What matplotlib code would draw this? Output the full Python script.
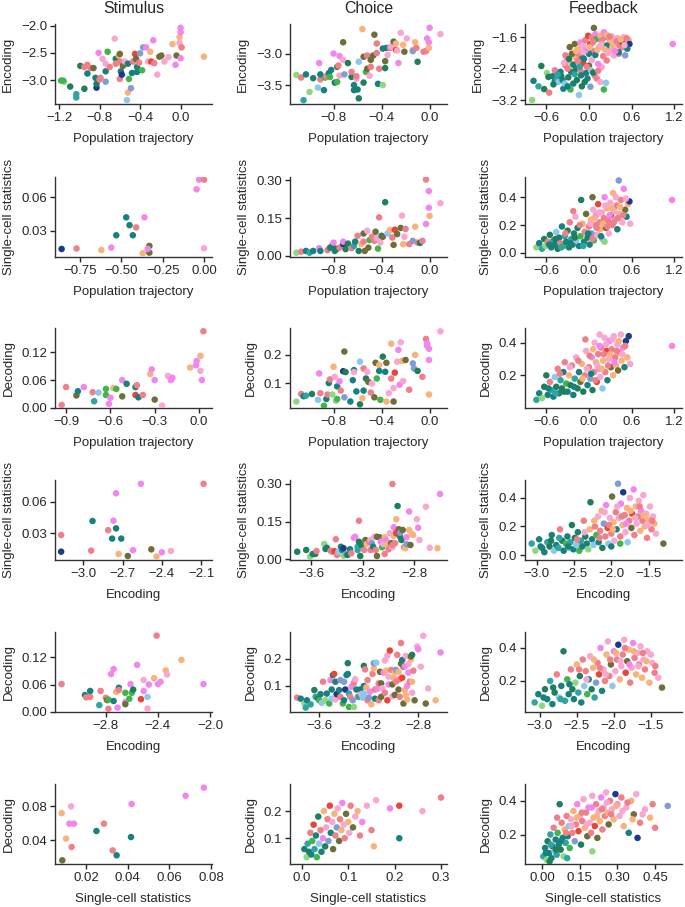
import matplotlib
matplotlib.use("Agg")
import matplotlib.pyplot as plt

plt.rcParams['font.family'] = ['Liberation Sans', 'DejaVu Sans']
plt.rcParams['font.size'] = 9.5
plt.rcParams['text.color'] = '#262626'
plt.rcParams['axes.labelcolor'] = '#262626'
plt.rcParams['xtick.color'] = '#262626'
plt.rcParams['ytick.color'] = '#262626'

# region group -> colour
colors = {
    'p': '#f9a6d0', 'm': '#f385ee', 's': '#ef7f89', 'o': '#f8b27c',
    't': '#17817f', 'g': '#1f7f5c', 'G': '#41b549', 'l': '#8fd77f',
    'v': '#6e6e38', 'b': '#8cc8ec', 'n': '#1a3a8c', 'r': '#e84437',
    'w': '#7f9dd2', 'c': '#2fa4a2',
}

titles = ['Stimulus', 'Choice', 'Feedback']

# ---------------- Stimulus ----------------
stim_traj_enc = [
    (-1.18, -3.01, 'G'), (-1.15, -3.03, 'l'), (-1.16, -3.01, 'G'), (-1.09, -3.12, 'g'),
    (-1.03, -3.26, 'c'), (-1.03, -3.32, 'c'), (-0.99, -2.74, 'g'), (-0.95, -3.16, 'g'),
    (-0.95, -2.76, 's'), (-0.92, -2.72, 's'), (-0.92, -2.88, 't'), (-0.89, -2.78, 's'),
    (-0.86, -2.78, 'v'), (-0.84, -2.96, 't'), (-0.83, -3.14, 'n'), (-0.83, -3.07, 'g'),
    (-0.81, -2.50, 'm'), (-0.79, -2.96, 's'), (-0.77, -2.61, 'p'), (-0.72, -2.48, 'G'),
    (-0.74, -2.70, 'p'), (-0.74, -3.03, 'w'), (-0.80, -2.99, 's'), (-0.74, -2.84, 't'),
    (-0.70, -2.76, 's'), (-0.65, -2.24, 'p'), (-0.64, -2.61, 'g'), (-0.64, -2.70, 's'),
    (-0.61, -2.55, 'o'), (-0.60, -2.66, 's'), (-0.60, -2.52, 'v'), (-0.60, -2.98, 's'),
    (-0.59, -2.84, 't'), (-0.58, -2.90, 'n'), (-0.57, -2.74, 'v'), (-0.55, -2.66, 'p'),
    (-0.52, -2.70, 't'), (-0.51, -2.98, 'G'), (-0.52, -3.23, 'o'), (-0.49, -3.15, 'w'),
    (-0.53, -3.37, 'b'), (-0.48, -2.87, 't'), (-0.47, -2.66, 's'), (-0.45, -2.52, 'r'),
    (-0.44, -2.61, 'v'), (-0.43, -2.76, 't'), (-0.43, -2.85, 't'), (-0.41, -2.68, 's'),
    (-0.40, -2.51, 'w'), (-0.38, -2.82, 'G'), (-0.37, -2.40, 'w'), (-0.34, -2.40, 'm'),
    (-0.32, -2.66, 'p'), (-0.30, -2.48, 'o'), (-0.29, -2.66, 'r'), (-0.26, -2.69, 's'),
    (-0.27, -2.27, 'm'), (-0.23, -2.90, 'p'), (-0.21, -2.57, 'v'), (-0.19, -2.55, 'v'),
    (-0.16, -2.66, 'p'), (-0.12, -2.58, 'p'), (-0.08, -2.34, 'o'), (-0.05, -2.72, 'm'),
    (-0.04, -2.55, 'v'), (-0.01, -2.21, 'o'), (0.0, -2.12, 'm'), (0.0, -2.04, 'm'),
    (-0.01, -2.32, 'p'), (0.01, -2.40, 's'), (0.0, -2.60, 'm'), (0.23, -2.57, 'o'),
]

stim_traj_sc = [
    (-0.86, 0.0138, 'n'), (-0.77, 0.0142, 's'), (-0.62, 0.0128, 'o'), (-0.56, 0.0150, 'm'),
    (-0.53, 0.0260, 't'), (-0.47, 0.0420, 't'), (-0.45, 0.0350, 't'), (-0.43, 0.0260, 't'),
    (-0.41, 0.0330, 's'), (-0.36, 0.0420, 'm'), (-0.37, 0.0100, 'o'), (-0.33, 0.0165, 'v'),
    (-0.33, 0.0105, 'v'), (-0.34, 0.0138, 'm'), (-0.045, 0.0670, 'm'), (-0.03, 0.0756, 'm'),
    (0.0, 0.0756, 's'), (0.0, 0.0144, 'p'),
]

stim_traj_dec = [
    (-0.93, 0.0065, 's'), (-0.90, 0.045, 's'), (-0.83, 0.027, 'v'), (-0.82, 0.036, 't'),
    (-0.78, 0.045, 'm'), (-0.72, 0.034, 's'), (-0.71, 0.0145, 'c'), (-0.68, 0.033, 'b'),
    (-0.63, 0.041, 'G'), (-0.63, 0.028, 'G'), (-0.61, 0.009, 'm'), (-0.60, 0.022, 'm'),
    (-0.58, 0.043, 'o'), (-0.56, 0.041, 'G'), (-0.52, 0.060, 'm'), (-0.52, 0.025, 'v'),
    (-0.49, 0.052, 't'), (-0.43, 0.045, 't'), (-0.43, 0.028, 'r'), (-0.42, 0.049, 's'),
    (-0.41, 0.023, 't'), (-0.38, 0.028, 's'), (-0.33, 0.073, 'o'), (-0.32, 0.083, 'm'),
    (-0.30, 0.060, 'm'), (-0.30, 0.018, 'v'), (-0.25, 0.005, 'p'), (-0.21, 0.069, 'p'),
    (-0.19, 0.060, 'm'), (-0.18, 0.065, 'm'), (-0.06, 0.087, 'o'), (-0.02, 0.092, 'm'),
    (-0.016, 0.101, 'm'), (0.01, 0.112, 'o'), (0.01, 0.080, 'p'), (0.02, 0.060, 'm'),
    (0.03, 0.165, 's'),
]

stim_enc_sc = [
    (-3.17, 0.0126, 'n'), (-3.17, 0.0284, 's'), (-2.94, 0.0136, 's'), (-2.93, 0.0417, 't'),
    (-2.81, 0.0330, 's'), (-2.78, 0.0250, 't'), (-2.77, 0.0420, 'm'), (-2.75, 0.0347, 't'),
    (-2.75, 0.0680, 'm'), (-2.73, 0.0104, 'o'), (-2.71, 0.0250, 't'), (-2.66, 0.0085, 'v'),
    (-2.62, 0.0140, 'm'), (-2.56, 0.0770, 'm'), (-2.48, 0.0148, 'v'), (-2.44, 0.0079, 'o'),
    (-2.40, 0.0120, 'm'), (-2.33, 0.0133, 'p'), (-2.08, 0.0770, 's'),
]

stim_enc_dec = [
    (-3.14, 0.061, 's'), (-2.96, 0.037, 't'), (-2.95, 0.032, 's'), (-2.92, 0.033, 's'),
    (-2.92, 0.046, 't'), (-2.85, 0.015, 'c'), (-2.84, 0.046, 's'), (-2.80, 0.031, 's'),
    (-2.79, 0.026, 'v'), (-2.78, 0.027, 'G'), (-2.78, 0.007, 's'), (-2.76, 0.083, 'm'),
    (-2.74, 0.094, 'm'), (-2.74, 0.024, 't'), (-2.72, 0.044, 'o'), (-2.71, 0.0096, 'm'),
    (-2.70, 0.053, 't'), (-2.70, 0.048, 's'), (-2.65, 0.022, 'm'), (-2.65, 0.017, 'v'),
    (-2.65, 0.042, 'G'), (-2.62, 0.029, 'G'), (-2.61, 0.061, 'm'), (-2.60, 0.042, 'G'),
    (-2.59, 0.049, 'g'), (-2.56, 0.103, 'm'), (-2.53, 0.028, 'r'), (-2.51, 0.070, 'p'),
    (-2.51, 0.046, 'm'), (-2.48, 0.033, 'b'), (-2.48, 0.0074, 'p'), (-2.47, 0.060, 'm'),
    (-2.43, 0.074, 'o'), (-2.41, 0.167, 's'), (-2.40, 0.061, 'm'), (-2.38, 0.066, 'm'),
    (-2.34, 0.091, 'o'), (-2.33, 0.082, 'p'), (-2.22, 0.114, 'o'), (-2.05, 0.061, 'm'),
]

stim_sc_dec = [
    (0.0083, 0.072, 'o'), (0.0086, 0.0165, 'v'), (0.0104, 0.042, 'o'), (0.0120, 0.0596, 'm'),
    (0.0128, 0.080, 'p'), (0.0131, 0.0322, 's'), (0.0142, 0.0596, 'm'), (0.0250, 0.051, 't'),
    (0.0286, 0.0596, 's'), (0.0328, 0.0282, 's'), (0.0347, 0.0224, 't'), (0.0416, 0.0439, 't'),
    (0.0419, 0.0827, 'm'), (0.0678, 0.0925, 'm'), (0.0766, 0.102, 'm'),
]

# ---------------- Choice ----------------
choice_traj_enc = [
    (-1.11, -3.34, 'l'), (-1.07, -3.38, 's'), (-1.03, -3.33, 't'), (-1.05, -3.74, 'c'),
    (-1.00, -3.61, 'l'), (-0.97, -3.39, 't'), (-0.93, -3.54, 'b'), (-0.92, -3.15, 'm'),
    (-0.91, -3.41, 's'), (-0.91, -3.33, 't'), (-0.88, -3.58, 't'), (-0.87, -3.38, 'G'),
    (-0.86, -3.36, 's'), (-0.84, -3.31, 't'), (-0.83, -3.37, 'G'), (-0.82, -3.26, 't'),
    (-0.80, -3.00, 'm'), (-0.79, -3.46, 'g'), (-0.77, -3.45, 'G'), (-0.77, -3.21, 'v'),
    (-0.76, -3.19, 's'), (-0.75, -3.35, 'p'), (-0.75, -3.04, 'm'), (-0.72, -3.10, 'p'),
    (-0.72, -2.82, 'v'), (-0.71, -3.33, 'w'), (-0.68, -3.15, 'g'), (-0.65, -3.37, 'g'),
    (-0.65, -3.29, 's'), (-0.61, -3.40, 'p'), (-0.61, -3.36, 's'), (-0.59, -3.13, 'b'),
    (-0.60, -3.57, 'g'), (-0.63, -3.58, 't'), (-0.63, -3.50, 't'), (-0.59, -3.71, 'g'),
    (-0.56, -2.61, 'o'), (-0.55, -3.05, 'v'), (-0.55, -3.46, 'g'), (-0.53, -3.29, 'G'),
    (-0.52, -3.24, 'v'), (-0.52, -3.03, 's'), (-0.50, -3.35, 'p'), (-0.49, -3.10, 'v'),
    (-0.49, -3.21, 's'), (-0.47, -3.03, 'v'), (-0.46, -2.70, 'v'), (-0.44, -2.84, 's'),
    (-0.44, -2.99, 's'), (-0.43, -3.48, 't'), (-0.42, -3.24, 's'), (-0.39, -3.50, 'l'),
    (-0.39, -2.92, 't'), (-0.37, -3.12, 'v'), (-0.37, -3.23, 'g'), (-0.36, -2.91, 't'),
    (-0.35, -3.02, 'p'), (-0.33, -2.91, 's'), (-0.32, -2.89, 'p'), (-0.30, -2.81, 'v'),
    (-0.28, -2.94, 'r'), (-0.28, -2.84, 'o'), (-0.27, -2.95, 'p'), (-0.26, -3.15, 'm'),
    (-0.24, -2.67, 'p'), (-0.22, -2.86, 'o'), (-0.21, -2.97, 'v'), (-0.19, -2.76, 'p'),
    (-0.14, -2.94, 'p'), (-0.14, -2.96, 'w'), (-0.12, -2.82, 'o'), (-0.11, -2.91, 's'),
    (-0.10, -3.13, 'g'), (-0.05, -2.97, 's'), (-0.03, -2.96, 's'), (-0.02, -2.76, 'm'),
    (-0.006, -2.82, 'm'), (-0.006, -2.91, 'o'), (0.0, -2.59, 'm'), (0.09, -2.69, 'p'),
]

choice_traj_sc = [
    (-1.11, 0.013, 'l'), (-1.07, 0.017, 's'), (-1.03, 0.020, 't'), (-1.00, 0.013, 'c'),
    (-0.97, 0.020, 't'), (-0.92, 0.031, 'm'), (-0.91, 0.020, 't'), (-0.85, 0.023, 's'),
    (-0.83, 0.033, 't'), (-0.81, 0.040, 'g'), (-0.80, 0.053, 'm'), (-0.79, 0.020, 't'),
    (-0.77, 0.029, 'g'), (-0.75, 0.033, 's'), (-0.72, 0.047, 'n'), (-0.72, 0.057, 'm'),
    (-0.70, 0.027, 'g'), (-0.68, 0.049, 'g'), (-0.65, 0.031, 's'), (-0.63, 0.040, 'c'),
    (-0.62, 0.057, 't'), (-0.60, 0.080, 's'), (-0.59, 0.020, 'g'), (-0.57, 0.047, 'o'),
    (-0.55, 0.057, 's'), (-0.55, 0.089, 'v'), (-0.54, 0.020, 'v'), (-0.52, 0.100, 'p'),
    (-0.51, 0.033, 'v'), (-0.50, 0.063, 'G'), (-0.48, 0.076, 's'), (-0.46, 0.060, 's'),
    (-0.45, 0.096, 'v'), (-0.44, 0.071, 'p'), (-0.43, 0.029, 'G'), (-0.42, 0.153, 's'),
    (-0.41, 0.053, 'p'), (-0.40, 0.080, 't'), (-0.39, 0.076, 'v'), (-0.37, 0.213, 'g'),
    (-0.35, 0.089, 'b'), (-0.33, 0.103, 'o'), (-0.31, 0.073, 's'), (-0.30, 0.044, 'v'),
    (-0.29, 0.104, 'r'), (-0.27, 0.087, 'v'), (-0.24, 0.111, 'v'), (-0.23, 0.160, 'p'),
    (-0.21, 0.076, 'p'), (-0.22, 0.047, 'o'), (-0.20, 0.107, 's'), (-0.17, 0.047, 's'),
    (-0.14, 0.060, 'w'), (-0.12, 0.116, 'o'), (-0.10, 0.053, 's'), (-0.08, 0.052, 'g'),
    (-0.06, 0.060, 's'), (-0.03, 0.303, 's'), (-0.006, 0.257, 'm'), (-0.006, 0.191, 'm'),
    (0.0, 0.159, 'o'), (-0.03, 0.127, 'm'), (0.09, 0.209, 'p'),
]

choice_traj_dec = [
    (-1.11, 0.034, 'l'), (-1.07, 0.061, 's'), (-1.05, 0.053, 't'), (-1.03, 0.055, 'c'),
    (-0.98, 0.061, 'g'), (-0.92, 0.134, 'm'), (-0.93, 0.040, 'b'), (-0.91, 0.064, 's'),
    (-0.88, 0.019, 'G'), (-0.86, 0.043, 't'), (-0.85, 0.059, 's'), (-0.84, 0.100, 't'),
    (-0.83, 0.113, 's'), (-0.81, 0.059, 'l'), (-0.80, 0.158, 'o'), (-0.79, 0.122, 'p'),
    (-0.78, 0.037, 'l'), (-0.77, 0.043, 'G'), (-0.77, 0.088, 't'), (-0.75, 0.106, 'm'),
    (-0.74, 0.073, 's'), (-0.72, 0.142, 'n'), (-0.71, 0.212, 'v'), (-0.71, 0.049, 'w'),
    (-0.70, 0.139, 'g'), (-0.66, 0.034, 't'), (-0.64, 0.110, 't'), (-0.63, 0.146, 't'),
    (-0.63, 0.139, 'p'), (-0.61, 0.070, 't'), (-0.58, 0.176, 'b'), (-0.58, 0.024, 'g'),
    (-0.56, 0.046, 'o'), (-0.55, 0.152, 's'), (-0.55, 0.073, 't'), (-0.53, 0.116, 'g'),
    (-0.52, 0.140, 'p'), (-0.51, 0.104, 'v'), (-0.49, 0.066, 's'), (-0.48, 0.098, 'p'),
    (-0.46, 0.049, 'v'), (-0.45, 0.172, 'v'), (-0.44, 0.116, 'G'), (-0.42, 0.164, 'o'),
    (-0.42, 0.143, 't'), (-0.41, 0.040, 'G'), (-0.39, 0.194, 'g'), (-0.37, 0.140, 't'),
    (-0.36, 0.172, 'v'), (-0.36, 0.034, 'o'), (-0.34, 0.064, 'p'), (-0.32, 0.240, 'o'),
    (-0.32, 0.116, 's'), (-0.30, 0.034, 'v'), (-0.30, 0.082, 'p'), (-0.29, 0.137, 'r'),
    (-0.27, 0.176, 'p'), (-0.26, 0.218, 'm'), (-0.25, 0.094, 'm'), (-0.23, 0.179, 'o'),
    (-0.22, 0.107, 'p'), (-0.20, 0.182, 'v'), (-0.24, 0.245, 'p'), (-0.17, 0.076, 's'),
    (-0.14, 0.170, 'w'), (-0.13, 0.152, 'w'), (-0.12, 0.200, 'o'), (-0.10, 0.143, 'g'),
    (-0.06, 0.122, 's'), (-0.03, 0.257, 's'), (-0.02, 0.241, 'm'), (-0.02, 0.232, 'm'),
    (-0.005, 0.222, 'm'), (-0.005, 0.182, 'm'), (-0.005, 0.059, 'o'), (0.09, 0.284, 'p'),
]

choice_enc_sc = [
    (-3.71, 0.029, 'g'), (-3.64, 0.036, 'g'), (-3.61, 0.009, 'l'), (-3.59, 0.020, 't'),
    (-3.57, 0.020, 'g'), (-3.56, 0.032, 's'), (-3.50, 0.060, 'l'), (-3.49, 0.040, 't'),
    (-3.48, 0.045, 'g'), (-3.45, 0.033, 's'), (-3.44, 0.029, 's'), (-3.42, 0.031, 'r'),
    (-3.41, 0.079, 's'), (-3.40, 0.016, 's'), (-3.39, 0.029, 'b'), (-3.37, 0.049, 't'),
    (-3.36, 0.036, 't'), (-3.35, 0.043, 'n'), (-3.35, 0.013, 'l'), (-3.33, 0.020, 'w'),
    (-3.32, 0.016, 'g'), (-3.30, 0.039, 't'), (-3.29, 0.023, 's'), (-3.27, 0.085, 'm'),
    (-3.26, 0.089, 'm'), (-3.24, 0.036, 'c'), (-3.24, 0.049, 'c'), (-3.23, 0.069, 'g'),
    (-3.23, 0.153, 's'), (-3.22, 0.012, 'g'), (-3.21, 0.056, 'g'), (-3.19, 0.036, 's'),
    (-3.18, 0.076, 'v'), (-3.17, 0.060, 'o'), (-3.15, 0.069, 's'), (-3.14, 0.036, 's'),
    (-3.14, 0.076, 'p'), (-3.13, 0.063, 'w'), (-3.12, 0.049, 't'), (-3.11, 0.089, 'p'),
    (-3.10, 0.036, 's'), (-3.09, 0.012, 'v'), (-3.09, 0.089, 'v'), (-3.07, 0.087, 'v'),
    (-3.06, 0.069, 'm'), (-3.05, 0.047, 'G'), (-3.04, 0.060, 'p'), (-3.03, 0.020, 's'),
    (-3.03, 0.087, 'o'), (-3.02, 0.076, 'm'), (-3.01, 0.059, 'o'), (-3.00, 0.039, 's'),
    (-2.99, 0.103, 'p'), (-2.98, 0.063, 'v'), (-2.97, 0.047, 'p'), (-2.97, 0.056, 's'),
    (-2.96, 0.127, 'm'), (-2.96, 0.092, 'o'), (-2.97, 0.300, 's'), (-2.95, 0.063, 's'),
    (-2.94, 0.109, 's'), (-2.94, 0.103, 'r'), (-2.94, 0.159, 'o'), (-2.93, 0.212, 'g'),
    (-2.92, 0.119, 'v'), (-2.91, 0.089, 't'), (-2.91, 0.105, 'w'), (-2.90, 0.076, 'g'),
    (-2.89, 0.116, 'v'), (-2.88, 0.047, 's'), (-2.87, 0.043, 'o'), (-2.86, 0.059, 'w'),
    (-2.86, 0.087, 'm'), (-2.84, 0.190, 'm'), (-2.84, 0.116, 'o'), (-2.83, 0.056, 'v'),
    (-2.82, 0.100, 'o'), (-2.81, 0.096, 'o'), (-2.78, 0.159, 'p'), (-2.77, 0.125, 'm'),
    (-2.76, 0.076, 'p'), (-2.71, 0.209, 'p'), (-2.68, 0.045, 'p'), (-2.62, 0.043, 'o'),
    (-2.60, 0.260, 'm'),
]

choice_enc_dec = [
    (-3.78, 0.056, 's'), (-3.75, 0.052, 't'), (-3.72, 0.034, 'l'), (-3.71, 0.019, 'c'),
    (-3.70, 0.046, 't'), (-3.67, 0.031, 'c'), (-3.64, 0.084, 'g'), (-3.63, 0.059, 'c'),
    (-3.61, 0.052, 'g'), (-3.60, 0.046, 'G'), (-3.59, 0.069, 't'), (-3.58, 0.036, 'b'),
    (-3.57, 0.115, 's'), (-3.55, 0.046, 'l'), (-3.54, 0.071, 't'), (-3.52, 0.034, 'G'),
    (-3.51, 0.121, 'm'), (-3.50, 0.086, 't'), (-3.50, 0.052, 'b'), (-3.49, 0.140, 'g'),
    (-3.48, 0.144, 'r'), (-3.47, 0.115, 't'), (-3.47, 0.049, 'p'), (-3.46, 0.069, 'n'),
    (-3.44, 0.084, 't'), (-3.43, 0.121, 'w'), (-3.43, 0.059, 's'), (-3.41, 0.034, 'G'),
    (-3.40, 0.046, 't'), (-3.40, 0.115, 'w'), (-3.39, 0.086, 'n'), (-3.38, 0.140, 't'),
    (-3.37, 0.144, 't'), (-3.37, 0.184, 'g'), (-3.36, 0.071, 'c'), (-3.36, 0.021, 'G'),
    (-3.35, 0.059, 's'), (-3.34, 0.096, 'm'), (-3.33, 0.046, 'w'), (-3.32, 0.021, 'l'),
    (-3.32, 0.111, 's'), (-3.31, 0.124, 'p'), (-3.30, 0.086, 't'), (-3.29, 0.059, 's'),
    (-3.28, 0.059, 'c'), (-3.27, 0.086, 't'), (-3.26, 0.069, 'p'), (-3.25, 0.056, 'b'),
    (-3.24, 0.099, 't'), (-3.24, 0.071, 'b'), (-3.24, 0.174, 'g'), (-3.23, 0.161, 's'),
    (-3.22, 0.094, 'o'), (-3.21, 0.121, 's'), (-3.21, 0.046, 's'), (-3.20, 0.056, 'w'),
    (-3.19, 0.078, 'm'), (-3.18, 0.031, 'o'), (-3.17, 0.144, 's'), (-3.16, 0.165, 'o'),
    (-3.16, 0.184, 'w'), (-3.15, 0.052, 't'), (-3.15, 0.086, 's'), (-3.14, 0.186, 'b'),
    (-3.13, 0.089, 'm'), (-3.12, 0.109, 's'), (-3.12, 0.046, 's'), (-3.11, 0.152, 'v'),
    (-3.10, 0.109, 'v'), (-3.10, 0.059, 'v'), (-3.09, 0.091, 'p'), (-3.08, 0.149, 'm'),
    (-3.07, 0.194, 'p'), (-3.07, 0.074, 's'), (-3.06, 0.156, 'o'), (-3.05, 0.046, 'r'),
    (-3.05, 0.212, 'p'), (-3.04, 0.105, 'm'), (-3.04, 0.134, 'p'), (-3.03, 0.231, 'r'),
    (-3.02, 0.159, 's'), (-3.01, 0.061, 'p'), (-3.01, 0.105, 'v'), (-3.00, 0.130, 'o'),
    (-2.99, 0.151, 'o'), (-2.99, 0.066, 'v'), (-2.98, 0.116, 's'), (-2.98, 0.159, 'w'),
    (-2.97, 0.215, 's'), (-2.96, 0.086, 'v'), (-2.96, 0.151, 'o'), (-2.95, 0.124, 's'),
    (-2.95, 0.059, 's'), (-2.94, 0.182, 'v'), (-2.94, 0.259, 's'), (-2.93, 0.196, 't'),
    (-2.93, 0.130, 'r'), (-2.92, 0.171, 'v'), (-2.92, 0.034, 'v'), (-2.91, 0.084, 'o'),
    (-2.91, 0.172, 'm'), (-2.90, 0.211, 'p'), (-2.90, 0.066, 'o'), (-2.89, 0.099, 'm'),
    (-2.89, 0.049, 'o'), (-2.88, 0.149, 'm'), (-2.88, 0.181, 'p'), (-2.87, 0.115, 's'),
    (-2.86, 0.199, 'o'), (-2.86, 0.209, 'v'), (-2.85, 0.215, 'g'), (-2.85, 0.115, 'o'),
    (-2.85, 0.074, 'p'), (-2.84, 0.156, 's'), (-2.83, 0.046, 'v'), (-2.81, 0.246, 'p'),
    (-2.80, 0.236, 'm'), (-2.78, 0.171, 'p'), (-2.76, 0.286, 'p'), (-2.74, 0.034, 'v'),
    (-2.72, 0.090, 'p'), (-2.66, 0.046, 'o'), (-2.62, 0.224, 'm'),
]

choice_sc_dec = [
    (0.005, 0.060, 't'), (0.010, 0.030, 'l'), (0.012, 0.080, 'c'), (0.015, 0.050, 'g'),
    (0.018, 0.120, 's'), (0.020, 0.040, 't'), (0.022, 0.090, 'G'), (0.025, 0.150, 'r'),
    (0.027, 0.060, 'c'), (0.030, 0.110, 't'), (0.032, 0.030, 'G'), (0.035, 0.180, 'g'),
    (0.037, 0.080, 'b'), (0.040, 0.130, 's'), (0.042, 0.050, 't'), (0.045, 0.100, 'm'),
    (0.047, 0.200, 'o'), (0.050, 0.070, 'g'), (0.052, 0.140, 'p'), (0.055, 0.170, 's'),
    (0.057, 0.090, 'w'), (0.060, 0.220, 'r'), (0.062, 0.120, 't'), (0.065, 0.160, 'p'),
    (0.067, 0.060, 'v'), (0.070, 0.190, 'o'), (0.072, 0.110, 's'), (0.075, 0.140, 'w'),
    (0.077, 0.210, 'p'), (0.080, 0.090, 'v'), (0.082, 0.170, 's'), (0.085, 0.130, 'o'),
    (0.087, 0.230, 'm'), (0.090, 0.150, 'p'), (0.092, 0.100, 's'), (0.095, 0.190, 'v'),
    (0.100, 0.160, 'o'), (0.102, 0.120, 'p'), (0.105, 0.220, 's'), (0.110, 0.140, 'v'),
    (0.115, 0.180, 'p'), (0.120, 0.200, 'o'), (0.125, 0.110, 's'), (0.130, 0.160, 'm'),
    (0.140, 0.220, 'p'), (0.150, 0.130, 's'), (0.155, 0.070, 'o'), (0.160, 0.240, 'p'),
    (0.190, 0.210, 'm'), (0.210, 0.100, 't'), (0.210, 0.220, 'r'), (0.260, 0.200, 'p'),
    (0.300, 0.250, 's'),
]

# ---------------- Feedback ----------------
fb_traj_enc = [
    (-0.80, -3.20, 'l'), (-0.78, -2.71, 't'), (-0.71, -2.85, 'c'), (-0.67, -2.33, 'g'),
    (-0.63, -2.92, 'g'), (-0.56, -3.01, 's'), (-0.59, -2.51, 'l'), (-0.57, -2.61, 'g'),
    (-0.51, -2.59, 't'), (-0.48, -2.72, 't'), (-0.48, -2.44, 's'), (-0.45, -2.65, 'c'),
    (-0.43, -2.74, 'b'), (-0.40, -2.48, 't'), (-0.39, -2.59, 'g'), (-0.37, -2.69, 't'),
    (-0.36, -2.91, 't'), (-0.34, -2.78, 'b'), (-0.33, -2.32, 's'), (-0.31, -2.19, 's'),
    (-0.29, -2.62, 'g'), (-0.26, -2.93, 'G'), (-0.25, -2.48, 't'), (-0.24, -2.27, 'o'),
    (-0.22, -2.78, 't'), (-0.20, -2.54, 'c'), (-0.19, -2.10, 'o'), (-0.18, -2.40, 'g'),
    (-0.17, -2.69, 'g'), (-0.14, -3.07, 'b'), (-0.12, -2.44, 's'), (-0.11, -2.57, 't'),
    (-0.10, -2.10, 't'), (-0.08, -2.26, 'r'), (-0.06, -2.74, 'g'), (-0.04, -2.51, 't'),
    (0.0, -2.32, 'v'), (0.02, -2.86, 'w'), (0.03, -2.44, 'b'), (0.05, -1.94, 's'),
    (0.08, -2.57, 's'), (0.11, -2.65, 's'), (0.16, -2.74, 'p'), (0.21, -2.93, 'G'),
    (0.24, -2.76, 'b'), (0.18, -2.36, 'p'), (0.25, -2.19, 's'), (0.30, -1.94, 'p'),
    (0.35, -2.06, 'p'), (0.42, -2.02, 's'), (0.47, -1.85, 's'), (0.51, -2.06, 'w'),
    (0.42, -1.98, 't'), (-0.27, -1.85, 'v'), (-0.20, -1.77, 'v'), (-0.15, -1.89, 'o'),
    (-0.12, -1.73, 'm'), (-0.08, -1.81, 'p'), (-0.05, -1.67, 's'), (-0.01, -1.56, 'r'),
    (0.02, -1.77, 'r'), (0.04, -1.60, 's'), (0.07, -1.36, 'v'), (0.09, -1.52, 'm'),
    (0.11, -1.64, 'G'), (0.14, -1.85, 'p'), (0.16, -1.56, 'o'), (0.18, -1.68, 's'),
    (0.21, -1.47, 'm'), (0.23, -1.60, 's'), (0.25, -1.54, 'o'), (0.28, -1.77, 'p'),
    (0.30, -1.67, 'o'), (0.32, -1.58, 'p'), (0.36, -1.73, 'o'), (0.40, -1.62, 'p'),
    (0.43, -1.81, 's'), (0.47, -1.73, 'v'), (0.49, -1.60, 'p'), (0.56, -1.67, 'o'),
    (0.57, -1.77, 'n'), (0.54, -1.89, 't'), (0.25, -1.81, 't'), (0.0, -2.02, 't'),
    (-0.05, -1.94, 'm'), (-0.15, -2.02, 's'), (-0.24, -2.02, 'v'), (-0.33, -2.06, 's'),
    (-0.35, -2.25, 'p'), (-0.30, -2.40, 's'), (-0.28, -2.15, 'g'), (-0.22, -2.30, 't'),
    (-0.18, -1.95, 'o'), (-0.16, -2.20, 's'), (-0.13, -2.35, 'c'), (-0.09, -1.98, 'p'),
    (-0.07, -2.15, 't'), (-0.03, -2.35, 's'), (0.01, -1.85, 'o'), (0.04, -2.18, 'p'),
    (0.06, -1.72, 's'), (0.09, -2.05, 't'), (0.12, -1.92, 'o'), (0.13, -2.28, 'm'),
    (0.17, -1.78, 'p'), (0.20, -2.08, 's'), (0.22, -1.90, 'o'), (0.27, -2.00, 'p'),
    (0.29, -1.58, 's'), (0.33, -1.85, 'o'), (0.37, -1.95, 'm'), (0.39, -1.70, 's'),
    (0.45, -1.65, 'o'), (0.50, -1.80, 'p'), (0.53, -1.62, 's'), (0.06, -2.50, 'g'),
    (-0.02, -2.65, 't'), (0.13, -2.45, 's'), (-0.10, -2.85, 'g'), (-0.30, -2.85, 't'),
    (-0.50, -2.80, 'g'), (-0.44, -2.55, 'c'), (1.18, -1.77, 'm'),
]

fb_traj_sc = [
    (-0.74, 0.04, 'l'), (-0.70, 0.07, 't'), (-0.66, 0.03, 'c'), (-0.63, 0.10, 'g'),
    (-0.61, 0.05, 'l'), (-0.58, 0.08, 's'), (-0.55, 0.13, 'g'), (-0.53, 0.04, 't'),
    (-0.50, 0.09, 'c'), (-0.48, 0.06, 't'), (-0.46, 0.15, 'b'), (-0.44, 0.03, 'g'),
    (-0.42, 0.11, 't'), (-0.40, 0.07, 's'), (-0.38, 0.19, 't'), (-0.36, 0.05, 'G'),
    (-0.34, 0.12, 'c'), (-0.32, 0.08, 't'), (-0.30, 0.16, 'g'), (-0.28, 0.04, 't'),
    (-0.27, 0.22, 's'), (-0.25, 0.10, 'c'), (-0.23, 0.06, 'g'), (-0.21, 0.14, 't'),
    (-0.19, 0.26, 'p'), (-0.18, 0.09, 'b'), (-0.16, 0.18, 'g'), (-0.14, 0.05, 't'),
    (-0.12, 0.12, 'G'), (-0.11, 0.38, 'g'), (-0.09, 0.21, 'o'), (-0.07, 0.08, 't'),
    (-0.06, 0.15, 's'), (-0.04, 0.28, 'v'), (-0.02, 0.11, 'g'), (0.0, 0.19, 's'),
    (0.01, 0.06, 't'), (0.03, 0.24, 'o'), (0.04, 0.14, 'w'), (0.06, 0.31, 'p'),
    (0.07, 0.09, 'G'), (0.09, 0.20, 's'), (0.10, 0.27, 'm'), (0.12, 0.13, 'p'),
    (0.13, 0.35, 'r'), (0.15, 0.22, 's'), (0.16, 0.17, 'o'), (0.18, 0.29, 'p'),
    (0.19, 0.10, 'b'), (0.21, 0.25, 's'), (0.22, 0.40, 'm'), (0.24, 0.18, 'v'),
    (0.25, 0.32, 'o'), (0.27, 0.23, 's'), (0.28, 0.14, 'p'), (0.30, 0.36, 'p'),
    (0.31, 0.27, 'r'), (0.33, 0.20, 's'), (0.34, 0.43, 'o'), (0.36, 0.30, 'p'),
    (0.37, 0.24, 'm'), (0.39, 0.34, 's'), (0.40, 0.17, 't'), (0.42, 0.52, 'w'),
    (0.43, 0.28, 'o'), (0.45, 0.38, 's'), (0.47, 0.22, 'p'), (0.49, 0.46, 'm'),
    (0.51, 0.31, 'v'), (0.53, 0.26, 't'), (0.55, 0.35, 'o'), (0.57, 0.37, 'n'),
    (0.58, 0.21, 'p'), (0.22, 0.08, 'l'), (0.05, 0.40, 'v'), (-0.22, 0.30, 's'),
    (-0.56, 0.06, 't'), (-0.47, 0.10, 'g'), (-0.39, 0.04, 'c'), (-0.33, 0.14, 's'),
    (-0.26, 0.07, 't'), (-0.20, 0.11, 'g'), (-0.13, 0.20, 's'), (-0.08, 0.05, 'c'),
    (-0.01, 0.14, 't'), (0.02, 0.21, 'p'), (0.05, 0.10, 's'), (0.08, 0.25, 'o'),
    (0.11, 0.18, 's'), (0.14, 0.29, 'p'), (0.17, 0.12, 't'), (0.20, 0.21, 'o'),
    (0.23, 0.34, 'p'), (0.26, 0.19, 's'), (0.29, 0.27, 'm'), (0.32, 0.32, 'o'),
    (0.35, 0.22, 's'), (0.38, 0.40, 'p'), (0.41, 0.25, 's'), (0.44, 0.33, 'o'),
    (0.48, 0.27, 's'), (0.52, 0.39, 'p'), (1.17, 0.38, 'm'),
]

fb_traj_dec = [
    (-0.74, 0.05, 'c'), (-0.70, 0.09, 't'), (-0.66, 0.06, 'l'), (-0.63, 0.13, 'g'),
    (-0.60, 0.20, 'g'), (-0.58, 0.08, 't'), (-0.55, 0.16, 's'), (-0.53, 0.11, 'c'),
    (-0.50, 0.07, 't'), (-0.48, 0.19, 'b'), (-0.46, 0.13, 'g'), (-0.44, 0.24, 's'),
    (-0.42, 0.09, 't'), (-0.40, 0.17, 'c'), (-0.38, 0.12, 'g'), (-0.36, 0.22, 't'),
    (-0.34, 0.28, 's'), (-0.32, 0.15, 'G'), (-0.30, 0.10, 't'), (-0.28, 0.20, 'o'),
    (-0.26, 0.14, 'g'), (-0.24, 0.26, 's'), (-0.22, 0.08, 't'), (-0.20, 0.18, 'c'),
    (-0.18, 0.31, 'p'), (-0.16, 0.12, 'g'), (-0.14, 0.22, 't'), (-0.12, 0.16, 'v'),
    (-0.10, 0.27, 'o'), (-0.08, 0.10, 'g'), (-0.06, 0.20, 's'), (-0.04, 0.35, 'p'),
    (-0.02, 0.14, 't'), (0.0, 0.25, 's'), (0.02, 0.18, 'w'), (0.04, 0.31, 'm'),
    (0.05, 0.11, 'g'), (0.07, 0.22, 's'), (0.08, 0.40, 'p'), (0.10, 0.28, 'o'),
    (0.11, 0.16, 'r'), (0.13, 0.33, 's'), (0.14, 0.24, 'm'), (0.16, 0.19, 'p'),
    (0.17, 0.37, 's'), (0.19, 0.12, 'b'), (0.20, 0.29, 'o'), (0.22, 0.43, 'p'),
    (0.23, 0.22, 's'), (0.25, 0.35, 'r'), (0.26, 0.17, 't'), (0.28, 0.30, 'p'),
    (0.29, 0.41, 'm'), (0.31, 0.25, 'v'), (0.32, 0.36, 's'), (0.34, 0.20, 'o'),
    (0.35, 0.44, 'p'), (0.37, 0.31, 's'), (0.38, 0.26, 'o'), (0.40, 0.39, 'p'),
    (0.41, 0.23, 'v'), (0.43, 0.34, 's'), (0.45, 0.45, 'p'), (0.46, 0.29, 'o'),
    (0.48, 0.37, 'm'), (0.50, 0.25, 't'), (0.52, 0.41, 'n'), (0.54, 0.31, 'o'),
    (0.56, 0.44, 'n'), (0.58, 0.27, 'p'), (0.15, 0.45, 'p'), (-0.05, 0.42, 's'),
    (-0.57, 0.12, 't'), (-0.47, 0.09, 'c'), (-0.41, 0.21, 's'), (-0.35, 0.10, 'g'),
    (-0.27, 0.25, 'p'), (-0.21, 0.13, 't'), (-0.15, 0.29, 's'), (-0.09, 0.18, 'o'),
    (-0.03, 0.24, 'p'), (0.01, 0.32, 's'), (0.03, 0.21, 't'), (0.06, 0.36, 'o'),
    (0.09, 0.17, 's'), (0.12, 0.26, 'p'), (0.15, 0.38, 'm'), (0.18, 0.24, 'o'),
    (0.21, 0.33, 's'), (0.24, 0.39, 'p'), (0.27, 0.26, 's'), (0.30, 0.33, 'o'),
    (0.33, 0.42, 'p'), (0.36, 0.28, 'm'), (0.39, 0.35, 's'), (0.42, 0.41, 'o'),
    (0.47, 0.33, 'p'), (0.51, 0.38, 's'), (1.17, 0.38, 'm'),
]

fb_enc_sc = [
    (-3.07, 0.08, 'c'), (-3.02, 0.03, 'l'), (-2.97, 0.11, 't'), (-2.93, 0.05, 'g'),
    (-2.90, 0.02, 't'), (-2.86, 0.09, 'c'), (-2.83, 0.06, 'g'), (-2.80, 0.14, 't'),
    (-2.77, 0.03, 'b'), (-2.74, 0.07, 't'), (-2.71, 0.05, 'c'), (-2.69, 0.18, 's'),
    (-2.66, 0.10, 'g'), (-2.64, 0.03, 't'), (-2.61, 0.08, 'G'), (-2.59, 0.13, 't'),
    (-2.57, 0.05, 'l'), (-2.55, 0.09, 'c'), (-2.53, 0.21, 'g'), (-2.51, 0.04, 't'),
    (-2.49, 0.12, 'g'), (-2.47, 0.07, 'b'), (-2.45, 0.16, 't'), (-2.43, 0.03, 'G'),
    (-2.41, 0.10, 'c'), (-2.39, 0.06, 't'), (-2.37, 0.24, 's'), (-2.35, 0.13, 'g'),
    (-2.33, 0.08, 't'), (-2.31, 0.04, 'l'), (-2.29, 0.18, 'o'), (-2.28, 0.37, 'g'),
    (-2.26, 0.11, 't'), (-2.24, 0.07, 'b'), (-2.22, 0.20, 's'), (-2.20, 0.14, 'G'),
    (-2.18, 0.27, 'p'), (-2.17, 0.09, 't'), (-2.15, 0.17, 's'), (-2.13, 0.31, 'o'),
    (-2.12, 0.05, 'g'), (-2.10, 0.22, 'w'), (-2.08, 0.13, 's'), (-2.07, 0.35, 'm'),
    (-2.05, 0.19, 'r'), (-2.04, 0.08, 'b'), (-2.02, 0.26, 'p'), (-2.00, 0.15, 's'),
    (-1.99, 0.41, 'v'), (-1.97, 0.23, 'o'), (-1.96, 0.10, 'p'), (-1.94, 0.30, 's'),
    (-1.93, 0.18, 't'), (-1.91, 0.50, 'w'), (-1.90, 0.26, 'p'), (-1.88, 0.13, 's'),
    (-1.87, 0.36, 'm'), (-1.85, 0.21, 'o'), (-1.84, 0.44, 'n'), (-1.82, 0.28, 's'),
    (-1.81, 0.16, 'p'), (-1.79, 0.33, 'o'), (-1.78, 0.09, 'b'), (-1.76, 0.24, 's'),
    (-1.75, 0.40, 'p'), (-1.73, 0.19, 'v'), (-1.72, 0.29, 'r'), (-1.70, 0.46, 'm'),
    (-1.69, 0.14, 's'), (-1.67, 0.34, 'o'), (-1.66, 0.22, 'p'), (-1.64, 0.27, 's'),
    (-1.63, 0.38, 'p'), (-1.61, 0.17, 'o'), (-1.60, 0.31, 'm'), (-1.58, 0.24, 's'),
    (-1.57, 0.42, 'p'), (-1.55, 0.20, 'o'), (-1.53, 0.29, 'p'), (-1.52, 0.12, 's'),
    (-1.50, 0.25, 'o'), (-1.48, 0.34, 'p'), (-1.46, 0.18, 's'), (-1.44, 0.27, 'p'),
    (-1.42, 0.22, 'o'), (-1.40, 0.15, 'p'), (-1.30, 0.08, 'v'),
    (-2.95, 0.06, 't'), (-2.81, 0.10, 'g'), (-2.70, 0.12, 'c'), (-2.58, 0.06, 't'),
    (-2.46, 0.11, 's'), (-2.36, 0.16, 'p'), (-2.23, 0.24, 'o'), (-2.16, 0.12, 's'),
    (-2.09, 0.30, 'p'), (-2.03, 0.21, 's'), (-1.98, 0.18, 'o'), (-1.92, 0.34, 'p'),
    (-1.86, 0.27, 's'), (-1.80, 0.22, 'm'), (-1.74, 0.31, 'o'), (-1.68, 0.26, 'p'),
    (-1.62, 0.34, 's'), (-1.56, 0.28, 'o'), (-1.51, 0.21, 'p'), (-1.45, 0.24, 's'),
    (-2.00, 0.06, 't'), (-1.88, 0.08, 'G'),
]

fb_enc_dec = [
    (-3.07, 0.07, 'c'), (-3.02, 0.12, 't'), (-2.97, 0.05, 'l'), (-2.93, 0.15, 'g'),
    (-2.90, 0.09, 't'), (-2.86, 0.20, 'c'), (-2.83, 0.06, 't'), (-2.80, 0.13, 'g'),
    (-2.77, 0.24, 's'), (-2.74, 0.10, 'b'), (-2.71, 0.17, 't'), (-2.68, 0.38, 'g'),
    (-2.66, 0.08, 'c'), (-2.63, 0.21, 'G'), (-2.61, 0.12, 't'), (-2.58, 0.27, 's'),
    (-2.56, 0.15, 'g'), (-2.54, 0.09, 't'), (-2.52, 0.19, 'l'), (-2.50, 0.30, 'o'),
    (-2.48, 0.13, 'c'), (-2.46, 0.23, 'g'), (-2.44, 0.07, 't'), (-2.42, 0.33, 's'),
    (-2.40, 0.17, 'b'), (-2.38, 0.26, 's'), (-2.36, 0.12, 'G'), (-2.34, 0.21, 't'),
    (-2.32, 0.35, 'p'), (-2.30, 0.15, 'g'), (-2.28, 0.28, 'o'), (-2.26, 0.10, 'c'),
    (-2.24, 0.19, 'w'), (-2.22, 0.31, 's'), (-2.20, 0.24, 'r'), (-2.18, 0.40, 'm'),
    (-2.16, 0.14, 't'), (-2.14, 0.27, 'p'), (-2.12, 0.20, 's'), (-2.10, 0.36, 'o'),
    (-2.08, 0.44, 'p'), (-2.06, 0.23, 's'), (-2.04, 0.30, 'v'), (-2.02, 0.17, 'b'),
    (-2.00, 0.38, 'm'), (-1.98, 0.26, 'p'), (-1.96, 0.33, 's'), (-1.94, 0.42, 'n'),
    (-1.92, 0.21, 'o'), (-1.90, 0.29, 'p'), (-1.88, 0.36, 's'), (-1.86, 0.45, 'p'),
    (-1.84, 0.25, 'r'), (-1.82, 0.32, 'v'), (-1.80, 0.39, 'o'), (-1.78, 0.19, 's'),
    (-1.76, 0.28, 'p'), (-1.74, 0.43, 'm'), (-1.72, 0.34, 's'), (-1.70, 0.24, 'o'),
    (-1.68, 0.37, 'p'), (-1.66, 0.30, 's'), (-1.64, 0.41, 'p'), (-1.62, 0.22, 'o'),
    (-1.60, 0.33, 'p'), (-1.58, 0.27, 's'), (-1.55, 0.38, 'p'), (-1.52, 0.19, 'o'),
    (-1.48, 0.31, 'p'), (-1.45, 0.25, 's'), (-1.40, 0.22, 'p'), (-1.35, 0.16, 'v'),
    (-2.95, 0.10, 't'), (-2.82, 0.16, 'g'), (-2.72, 0.09, 'c'), (-2.60, 0.18, 't'),
    (-2.47, 0.27, 's'), (-2.37, 0.21, 'p'), (-2.27, 0.33, 'o'), (-2.19, 0.28, 's'),
    (-2.11, 0.24, 'p'), (-2.05, 0.33, 's'), (-1.97, 0.37, 'o'), (-1.91, 0.32, 'p'),
    (-1.85, 0.40, 's'), (-1.79, 0.30, 'm'), (-1.73, 0.38, 'o'), (-1.67, 0.29, 'p'),
    (-1.61, 0.37, 's'), (-1.56, 0.32, 'o'), (-1.50, 0.36, 'p'), (-1.44, 0.29, 's'),
]

fb_sc_dec = [
    (0.005, 0.07, 'c'), (0.012, 0.12, 't'), (0.018, 0.05, 'l'), (0.022, 0.16, 'g'),
    (0.028, 0.09, 't'), (0.033, 0.20, 'c'), (0.037, 0.06, 't'), (0.041, 0.13, 'g'),
    (0.046, 0.24, 's'), (0.050, 0.10, 'b'), (0.054, 0.17, 't'), (0.058, 0.08, 'c'),
    (0.062, 0.21, 'G'), (0.066, 0.14, 't'), (0.070, 0.38, 'g'), (0.074, 0.11, 'g'),
    (0.078, 0.27, 's'), (0.082, 0.18, 't'), (0.086, 0.07, 'l'), (0.090, 0.23, 'o'),
    (0.094, 0.15, 'c'), (0.098, 0.31, 's'), (0.102, 0.19, 't'), (0.106, 0.25, 'b'),
    (0.110, 0.12, 'G'), (0.115, 0.29, 'p'), (0.120, 0.21, 's'), (0.125, 0.34, 'o'),
    (0.130, 0.16, 'w'), (0.135, 0.26, 's'), (0.140, 0.38, 'm'), (0.145, 0.22, 'r'),
    (0.150, 0.31, 'p'), (0.155, 0.14, 'g'), (0.160, 0.28, 's'), (0.165, 0.41, 'p'),
    (0.170, 0.24, 'o'), (0.175, 0.33, 's'), (0.180, 0.19, 'v'), (0.185, 0.36, 'm'),
    (0.190, 0.27, 'p'), (0.195, 0.21, 's'), (0.200, 0.43, 'p'), (0.205, 0.30, 'o'),
    (0.210, 0.25, 'r'), (0.215, 0.38, 's'), (0.220, 0.18, 'v'), (0.225, 0.34, 'p'),
    (0.230, 0.28, 'o'), (0.235, 0.42, 'm'), (0.240, 0.23, 's'), (0.245, 0.36, 'p'),
    (0.250, 0.31, 's'), (0.255, 0.45, 'p'), (0.260, 0.33, 'o'), (0.265, 0.26, 'v'),
    (0.270, 0.40, 's'), (0.278, 0.35, 'p'), (0.285, 0.29, 'o'), (0.292, 0.44, 'n'),
    (0.300, 0.38, 'm'), (0.308, 0.31, 'p'), (0.316, 0.42, 's'), (0.325, 0.25, 'o'),
    (0.335, 0.36, 'p'), (0.345, 0.21, 't'), (0.355, 0.40, 'o'), (0.365, 0.32, 'v'),
    (0.375, 0.44, 'p'), (0.390, 0.27, 's'), (0.410, 0.35, 'p'), (0.430, 0.30, 'o'),
    (0.450, 0.24, 's'), (0.500, 0.37, 'w'), (0.380, 0.18, 'n'), (0.200, 0.10, 'l'),
    (0.100, 0.06, 'c'), (0.060, 0.30, 's'), (0.030, 0.04, 'g'),
    (0.015, 0.09, 't'), (0.035, 0.14, 'c'), (0.055, 0.11, 'g'), (0.075, 0.16, 't'),
    (0.095, 0.21, 's'), (0.118, 0.25, 'p'), (0.138, 0.30, 'o'), (0.158, 0.33, 's'),
    (0.178, 0.26, 'p'), (0.198, 0.36, 'm'), (0.218, 0.31, 'o'), (0.238, 0.35, 's'),
    (0.258, 0.39, 'p'), (0.275, 0.32, 's'), (0.295, 0.37, 'o'), (0.320, 0.34, 'p'),
    (0.340, 0.39, 's'), (0.360, 0.29, 'o'), (0.400, 0.32, 'p'), (0.440, 0.38, 's'),
]

# panel layout: (row, col, data, xlabel, ylabel, xlim, ylim, xticks, yticks, x fmt, y fmt)
panels = [
    (0, 0, stim_traj_enc, 'Population trajectory', 'Encoding', (-1.24, 0.31), (-3.44, -1.97),
     [-1.2, -0.8, -0.4, 0.0], [-3.0, -2.5, -2.0], '%.1f', '%.1f'),
    (0, 1, choice_traj_enc, 'Population trajectory', 'Encoding', (-1.163, 0.145), (-3.80, -2.53),
     [-0.8, -0.4, 0.0], [-3.5, -3.0], '%.1f', '%.1f'),
    (0, 2, fb_traj_enc, 'Population trajectory', 'Encoding', (-0.90, 1.31), (-3.30, -1.26),
     [-0.6, 0.0, 0.6, 1.2], [-3.2, -2.4, -1.6], '%.1f', '%.1f'),
    (1, 0, stim_traj_sc, 'Population trajectory', 'Single-cell statistics', (-0.90, 0.048), (0.0066, 0.078),
     [-0.75, -0.50, -0.25, 0.0], [0.03, 0.06], '%.2f', '%.2f'),
    (1, 1, choice_traj_sc, 'Population trajectory', 'Single-cell statistics', (-1.163, 0.145), (-0.004, 0.313),
     [-0.8, -0.4, 0.0], [0.0, 0.15, 0.30], '%.1f', '%.2f'),
    (1, 2, fb_traj_sc, 'Population trajectory', 'Single-cell statistics', (-0.90, 1.31), (-0.029, 0.545),
     [-0.6, 0.0, 0.6, 1.2], [0.0, 0.2, 0.4], '%.1f', '%.1f'),
    (2, 0, stim_traj_dec, 'Population trajectory', 'Decoding', (-0.975, 0.088), (0.0, 0.172),
     [-0.9, -0.6, -0.3, 0.0], [0.0, 0.06, 0.12], '%.1f', '%.2f'),
    (2, 1, choice_traj_dec, 'Population trajectory', 'Decoding', (-1.163, 0.145), (0.011, 0.296),
     [-0.8, -0.4, 0.0], [0.1, 0.2], '%.1f', '%.1f'),
    (2, 2, fb_traj_dec, 'Population trajectory', 'Decoding', (-0.90, 1.31), (0.0, 0.49),
     [-0.6, 0.0, 0.6, 1.2], [0.2, 0.4], '%.1f', '%.1f'),
    (3, 0, stim_enc_sc, 'Encoding', 'Single-cell statistics', (-3.217, -2.016), (0.0047, 0.0806),
     [-3.0, -2.7, -2.4, -2.1], [0.03, 0.06], '%.1f', '%.2f'),
    (3, 1, choice_enc_sc, 'Encoding', 'Single-cell statistics', (-3.766, -2.546), (-0.004, 0.316),
     [-3.6, -3.2, -2.8], [0.0, 0.15, 0.30], '%.1f', '%.2f'),
    (3, 2, fb_enc_sc, 'Encoding', 'Single-cell statistics', (-3.16, -1.05), (-0.035, 0.526),
     [-3.0, -2.5, -2.0, -1.5], [0.0, 0.2, 0.4], '%.1f', '%.1f'),
    (4, 0, stim_enc_dec, 'Encoding', 'Decoding', (-3.19, -1.985), (0.0, 0.175),
     [-2.8, -2.4, -2.0], [0.0, 0.06, 0.12], '%.1f', '%.2f'),
    (4, 1, choice_enc_dec, 'Encoding', 'Decoding', (-3.837, -2.568), (0.0025, 0.30),
     [-3.6, -3.2, -2.8], [0.1, 0.2], '%.1f', '%.1f'),
    (4, 2, fb_enc_dec, 'Encoding', 'Decoding', (-3.20, -1.08), (0.012, 0.497),
     [-3.0, -2.5, -2.0, -1.5], [0.2, 0.4], '%.1f', '%.1f'),
    (5, 0, stim_sc_dec, 'Single-cell statistics', 'Decoding', (0.0051, 0.0805), (0.0122, 0.1063),
     [0.02, 0.04, 0.06, 0.08], [0.04, 0.08], '%.2f', '%.2f'),
    (5, 1, choice_sc_dec, 'Single-cell statistics', 'Decoding', (-0.026, 0.313), (0.005, 0.30),
     [0.0, 0.1, 0.2, 0.3], [0.1, 0.2], '%.1f', '%.1f'),
    (5, 2, fb_sc_dec, 'Single-cell statistics', 'Decoding', (-0.068, 0.557), (0.025, 0.50),
     [0.0, 0.15, 0.30, 0.45], [0.2, 0.4], '%.2f', '%.1f'),
]

W, H = 685, 907
col_left = [55, 290, 525]
row_top = [24, 177, 328, 480, 632, 784]
ax_w, ax_h = 157, 80

fig = plt.figure(figsize=(W / 100, H / 100), dpi=100)

for row, col, data, xl, yl, xlim, ylim, xt, yt, xf, yf in panels:
    left = col_left[col]
    top = row_top[row]
    ax = fig.add_axes([left / W, 1 - (top + ax_h) / H, ax_w / W, ax_h / H])
    xs = [d[0] for d in data]
    ys = [d[1] for d in data]
    cs = [colors[d[2]] for d in data]
    ax.scatter(xs, ys, c=cs, s=22, linewidths=0, zorder=3)
    ax.set_xlim(*xlim)
    ax.set_ylim(*ylim)
    ax.set_xticks(xt)
    ax.set_yticks(yt)
    ax.set_xticklabels([(xf % v).replace('-', '\u2212') for v in xt])
    ax.set_yticklabels([(yf % v).replace('-', '\u2212') for v in yt])
    ax.set_xlabel(xl, labelpad=7)
    ax.set_ylabel(yl, labelpad=5)
    for side in ['top', 'right']:
        ax.spines[side].set_visible(False)
    for side in ['left', 'bottom']:
        ax.spines[side].set_color('#333333')
        ax.spines[side].set_linewidth(1.0)
    ax.tick_params(direction='out', length=3.5, width=1.0, colors='#262626', pad=2)
    if row == 0:
        ax.set_title(titles[col], pad=8)

fig.savefig('out.png', dpi=100)
